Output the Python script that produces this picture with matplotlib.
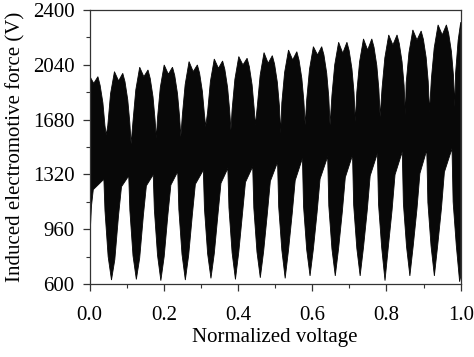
import numpy as np
import matplotlib as mpl
import matplotlib.pyplot as plt
from matplotlib.ticker import MultipleLocator, FixedLocator

plt.rc('font', family='serif', serif=['Liberation Serif', 'DejaVu Serif'], size=15)

# Upper envelope, one entry per lobe (normalized voltage / volts)
peak_x = [0.000, 0.067, 0.135, 0.201, 0.268, 0.336, 0.402, 0.470,
          0.536, 0.603, 0.671, 0.738, 0.806, 0.871, 0.939]
peak_l = [1967, 1995, 2024, 2039, 2061, 2078, 2094, 2120,
          2137, 2159, 2188, 2210, 2236, 2269, 2302]
notch = [1918, 1934, 1962, 1978, 1995, 2017, 2039, 2050,
         2072, 2105, 2116, 2137, 2170, 2203, 2236]
peak_r = [1962, 1984, 2006, 2024, 2039, 2065, 2083, 2100,
          2126, 2159, 2188, 2210, 2236, 2262, 2302]
rise_lo = [1610, 1640, 1670, 1690, 1710, 1730, 1745, 1770,
           1790, 1810, 1840, 1860, 1885, 1920, 1950]
rise_mid = [1820, 1850, 1875, 1890, 1910, 1930, 1945, 1970,
            1990, 2010, 2040, 2060, 2085, 2120, 2150]
fall_hi = [1905, 1929, 1950, 1970, 1985, 2010, 2028, 2045,
           2070, 2105, 2133, 2155, 2180, 2207, 2247]
fall_mid = [1790, 1809, 1830, 1850, 1865, 1890, 1908, 1925,
            1950, 1985, 2013, 2035, 2060, 2087, 2127]
fall_lo = [1640, 1660, 1680, 1700, 1715, 1740, 1755, 1770,
           1800, 1830, 1860, 1880, 1905, 1930, 1970]
dip = [1579, 1520, 1557, 1568, 1634, 1612, 1645, 1590,
       1645, 1645, 1667, 1699, 1710, 1732, 1765]
tail_x = [0.986, 0.993, 1.000]
tail_v = [1980, 2200, 2320]

# Lower envelope, one entry per lobe
min_x = [0.059, 0.126, 0.192, 0.258, 0.327, 0.393, 0.460, 0.527,
         0.594, 0.662, 0.729, 0.796, 0.863, 0.929, 0.997]
low_min = [626, 630, 622, 626, 637, 630, 641, 637,
           653, 653, 653, 622, 653, 653, 615]
plat_end = [1288, 1310, 1318, 1338, 1348, 1360, 1371, 1400,
            1426, 1437, 1447, 1458, 1469, 1480, 1490]
drop_hi = [1080, 1085, 1090, 1090, 1095, 1100, 1100, 1108,
           1110, 1115, 1120, 1125, 1130, 1135, 1140]
drop_lo = [780, 785, 790, 795, 800, 805, 810, 823,
           825, 830, 835, 840, 845, 850, 855]
rise1 = [760, 770, 780, 790, 800, 810, 815, 823,
         830, 835, 840, 845, 850, 855]
rise2 = [1050, 1052, 1055, 1057, 1060, 1062, 1063, 1064,
         1070, 1075, 1080, 1085, 1090, 1095]
plat_start = [1239, 1245, 1250, 1255, 1262, 1268, 1275, 1280,
              1290, 1300, 1310, 1318, 1326, 1335]
head_x = [0.0, 0.0015, 0.005, 0.010]
head_v = [770, 930, 1110, 1220]
end_v = 650

y_ticks = [600, 960, 1320, 1680, 2040, 2400]
y_minor = [780, 1140, 1500, 1860, 2220]


def upper_envelope():
    xs, ys = [], []
    for k, px in enumerate(peak_x):
        if k > 0:
            xs += [px - 0.018, px - 0.0105]
            ys += [rise_lo[k], rise_mid[k]]
        pr = px + 0.0224
        xs += [px, px + 0.0112, pr, pr + 0.006, pr + 0.0135, pr + 0.019, pr + 0.0225]
        ys += [peak_l[k], notch[k], peak_r[k], fall_hi[k], fall_mid[k], fall_lo[k], dip[k]]
    xs += tail_x
    ys += tail_v
    return np.array(xs), np.array(ys)


def lower_envelope():
    xs, ys = list(head_x), list(head_v)
    for k, m in enumerate(min_x):
        xs += [m - 0.0205, m - 0.0175, m - 0.009, m]
        ys += [plat_end[k], drop_hi[k], drop_lo[k], low_min[k]]
        if k < len(rise1):
            xs += [m + 0.009, m + 0.019, m + 0.027]
            ys += [rise1[k], rise2[k], plat_start[k]]
    xs.append(1.0)
    ys.append(end_v)
    return np.array(xs), np.array(ys)


fig = plt.figure(figsize=(4.74, 3.57), dpi=100)
ax = fig.add_axes([0.189, 0.2045, 0.783, 0.7675])

ux, uy = upper_envelope()
lx, ly = lower_envelope()
ax.fill(np.concatenate([ux, lx[::-1]]), np.concatenate([uy, ly[::-1]]),
        color='#080808', linewidth=0.6, edgecolor='#080808')

ax.set_xlim(0, 1.0)
ax.set_ylim(600, 2400)
ax.xaxis.set_major_locator(MultipleLocator(0.2))
ax.xaxis.set_minor_locator(MultipleLocator(0.1))
ax.yaxis.set_major_locator(FixedLocator(y_ticks))
ax.yaxis.set_minor_locator(FixedLocator(y_minor))
ax.xaxis.set_major_formatter(mpl.ticker.FormatStrFormatter('%.1f'))
ax.tick_params(which='both', direction='out', top=False, right=False, color='#333333')
ax.tick_params(which='major', length=5, width=0.9)
ax.tick_params(which='minor', length=3, width=0.8)
ax.tick_params(axis='x', which='major', pad=11)
ax.tick_params(axis='y', which='major', pad=6)
for s in ax.spines.values():
    s.set_color('#333333')
    s.set_linewidth(0.9)

ax.set_xlabel('Normalized voltage', labelpad=2)
ax.set_ylabel('Induced electromotive force (V)', labelpad=5)

plt.savefig('out.png', dpi=100)
